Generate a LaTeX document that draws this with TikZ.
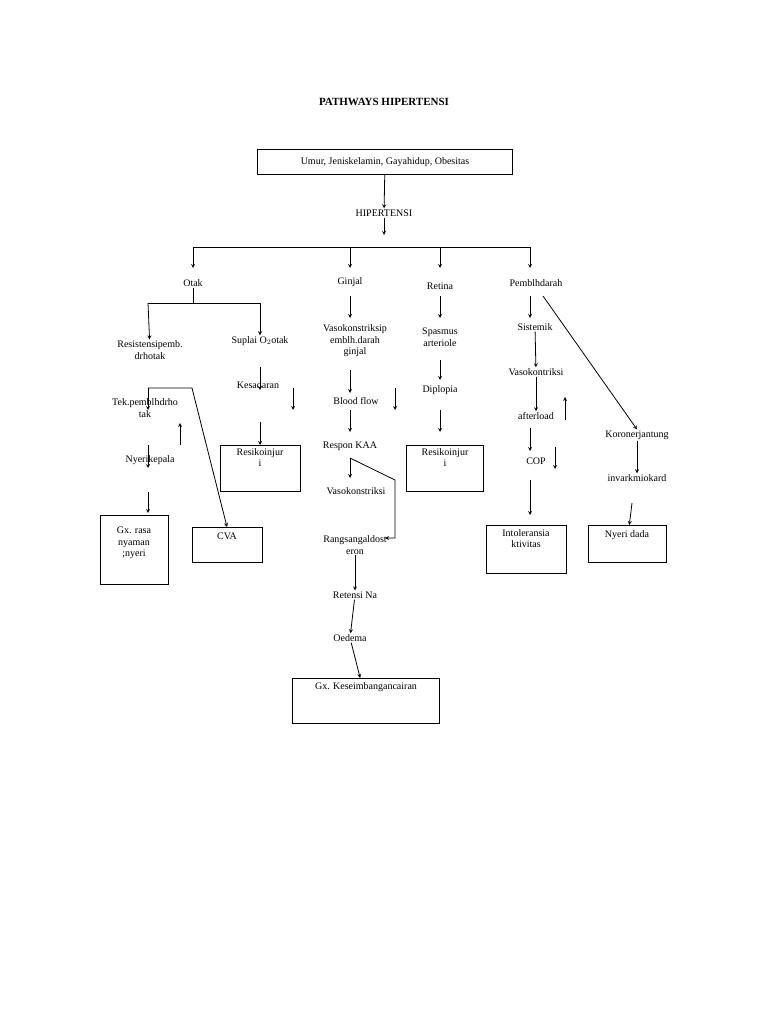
\documentclass[tikz,border=0pt]{standalone}
\usepackage{fontspec}
\setmainfont{Liberation Serif}
\begin{document}
\begin{tikzpicture}[x=1pt,y=-1pt,
  every node/.style={font=\fontsize{10}{11.5}\selectfont,align=center,inner sep=1pt},
  box/.style={draw,thick,minimum width=#1},
  arr/.style={->,>=stealth,thick}]
\useasboundingbox (0,0) rectangle (768,1024);

% Title and cause
\node[font=\fontsize{11}{13}\selectfont\bfseries] (title) at (384,102) {PATHWAYS HIPERTENSI};
\node[box=255pt,minimum height=25pt] (cause) at (385,162) {Umur, Jeniskelamin, Gayahidup, Obesitas};
\node (hip) at (384,213) {HIPERTENSI};
\draw[arr] (cause) -- (hip);
\coordinate (split) at (384,247);
\draw[arr] (hip) -- ++(0,22) ;
\draw[thick] (193,247) -- (530,247);

% Branches
\node (otak) at (193,283) {Otak};
\node (ginjal) at (350,282) {Ginjal};
\node (retina) at (440,286) {Retina};
\node (darah) at (536,283) {Pemblhdarah};
\foreach \n/\x in {otak/193,ginjal/350,retina/440,darah/530}
  \draw[arr] (\x,247) -- (\x,268);

% Otak
\node (resist) at (150,350) {Resistensipemb.\\drhotak};
\node (suplai) at (260,341) {Suplai O$_2$otak};
\draw[thick] (otak) -- (193,303) -- (148,303);
\draw[thick] (193,303) -- (260,303);
\draw[arr] (148,303) -- (resist);
\draw[arr] (260,303) -- (suplai);
\node (sadar) at (258,385) {Kesadaran};
\draw[arr] (suplai) ++(0,26) -- ++(0,23);
\draw[arr] (293,388) -- (293,410);
\node[box=80pt,minimum height=46pt,anchor=north] (inj1) at (260,445) {Resikoinjur\\i\\[10pt]};
\draw[arr] (260,422) -- (inj1);
\node (tek) at (145,408) {Tek.pemblhdrho\\tak};
\coordinate (bend1) at (192,388);
\draw[arr] (148,388) -- (148,410);
\node[box=70pt,minimum height=35pt,anchor=north] (cva) at (227,527) {CVA\\[6pt]};
\draw[arr] (148,388) -- (bend1) -- (cva.north);
\draw[arr] (180,445) -- (180,423);
\node (nyeri) at (150,460) {Nyerikepala};
\draw[arr] (148,445) -- (148,468);
\node[box=68pt,minimum height=69pt,anchor=north] (gx1) at (134,515) {Gx. rasa\\nyaman\\;nyeri\\[4pt]};
\draw[arr] (148,492) -- (148,513);

% Ginjal
\node (vaso1) at (355,341) {Vasokonstriksip\\emblh.darah\\ginjal};
\draw[arr] (ginjal) ++(0,14) -- ++(0,22);
\node (blood) at (356,401) {Blood flow};
\draw[arr] (350,370) -- (350,393);
\draw[arr] (395,388) -- (395,410);
\node (kaa) at (350,446) {Respon KAA};
\draw[arr] (350,410) -- (350,432);
\node (vaso2) at (356,491) {Vasokonstriksi};
\draw[arr] (350,458) -- (350,478);
\node (aldo) at (355,545) {Rangsangaldost\\eron};
\draw[arr] (350,458) -- (395,480) -- (395,538) -- (385,538);
\node (natrium) at (355,595) {Retensi Na};
\draw[arr] (aldo) -- (natrium);
\node (oedema) at (350,638) {Oedema};
\draw[arr] (natrium) -- (oedema);
\node[box=147pt,minimum height=45pt,anchor=north] (gx2) at (366,678) {Gx. Keseimbangancairan\\[18pt]};
\draw[arr] (oedema) -- (gx2);

% Retina
\node (spasmus) at (440,337) {Spasmus\\arteriole};
\draw[arr] (440,296) -- (440,318);
\node (diplopia) at (440,390) {Diplopia};
\draw[arr] (440,360) -- (440,380);
\node[box=77pt,minimum height=46pt,anchor=north] (inj2) at (445,445) {Resikoinjur\\i\\[10pt]};
\draw[arr] (440,410) -- (440,432);

% Pembuluh darah
\node (sistemik) at (535,327) {Sistemik};
\draw[arr] (530,296) -- (530,318);
\node (vaso3) at (536,372) {Vasokontriksi};
\draw[arr] (sistemik) -- (vaso3);
\node (after) at (536,416) {afterload};
\draw[arr] (vaso3) -- (after);
\draw[arr] (565,420) -- (565,397);
\node (cop) at (536,461) {COP};
\draw[arr] (530,428) -- (530,451);
\draw[arr] (555,447) -- (555,469);
\node[box=80pt,minimum height=48pt,anchor=north] (intol) at (526,525) {Intoleransia\\ktivitas\\[10pt]};
\draw[arr] (530,480) -- (530,515);
\node (koroner) at (637,435) {Koronerjantung};
\draw[arr] (543,296) -- (koroner.north);
\node (infark) at (637,478) {invarkmiokard};
\draw[arr] (koroner) -- (infark);
\node[box=78pt,minimum height=37pt,anchor=north] (dada) at (627,525) {Nyeri dada\\[8pt]};
\draw[arr] (632,503) -- (dada);
\end{tikzpicture}
\end{document}
